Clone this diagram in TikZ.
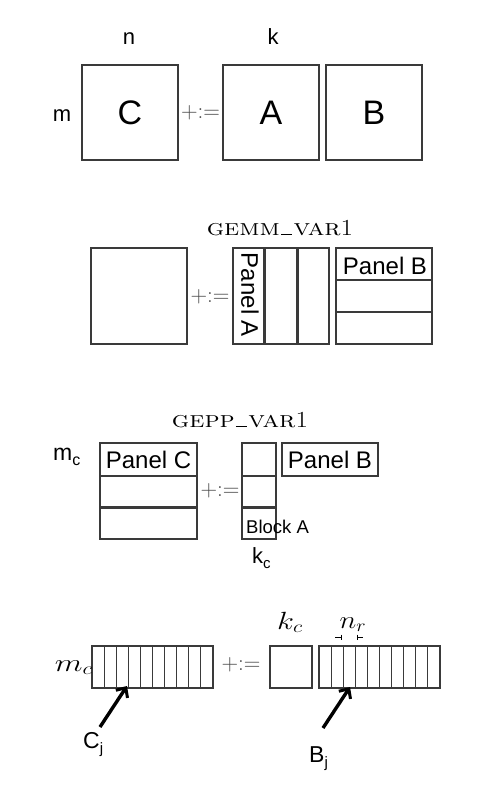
\documentclass[tikz,border=0pt]{standalone}
\usepackage{fontspec}
\usepackage{graphicx}
\usetikzlibrary{arrows.meta}
\newfontfamily\arial{Liberation Sans}
\definecolor{boxc}{HTML}{3A3A3A}
\definecolor{opc}{HTML}{484848}
\newcommand{\myus}{\kern0.04em\rule[-0.01em]{0.42em}{0.05em}\kern0.04em}
\begin{document}
\begin{tikzpicture}[x=1pt,y=-1pt,
  box/.style={draw=boxc,line width=1.3pt,inner sep=0pt,minimum width=96pt,minimum height=96pt},
  div/.style={draw=boxc,line width=2.2pt},
  thinln/.style={draw=boxc,line width=1.1pt},
  lbl/.style={font=\arial\fontsize{22}{24}\selectfont,inner sep=0pt,anchor=base},
  big/.style={font=\arial\fontsize{34}{36}\selectfont},
  paneltxt/.style={font=\arial\fontsize{24}{26}\selectfont,inner sep=0pt},
  op/.style={font=\fontsize{23}{24}\selectfont,text=opc,inner sep=0pt},
  ttl/.style={font=\fontsize{23}{26}\selectfont,inner sep=0pt,anchor=base},
  mlbl/.style={inner sep=0pt,anchor=base},
  ptr/.style={line width=3.4pt,-{Straight Barb[length=7.5pt,width=14pt,line width=3pt]}}]
\useasboundingbox (0,0) rectangle (483,795);

% ---------- Section 1 ----------
\node[box,big,minimum height=95pt] (C1) at (130,112.5) {C};
\node[box,big,minimum height=95pt] (A1) at (271,112.5) {A};
\node[box,big,minimum height=95pt] (B1) at (374,112.5) {B};
\node[op] (op1) at (200.5,112.5) {+:=};
\node[lbl] (n1) at (129,44) {n};
\node[lbl] (k1) at (273,44) {k};
\node[lbl] (m1) at (62,121) {m};

% ---------- Section 2 ----------
\node[ttl] (t2) at (280,235) {\scalebox{1.18}[1]{\textsc{gemm}\myus\textsc{var}1}};
\node[box] (C2) at (139,296) {};
\node[op] (op2) at (210,297) {+:=};
\node[box] (A2) at (281,296) {};
\draw[div] (264.5,248) -- (264.5,344);
\draw[div] (297.5,248) -- (297.5,344);
\node[paneltxt,rotate=-90] (pa) at (250,295) {Panel A};
\node[box] (B2) at (384,296) {};
\draw[div] (336,280) -- (432,280);
\draw[div] (336,312) -- (432,312);
\node[paneltxt,anchor=base] (pb2) at (385,274) {Panel B};

% ---------- Section 3 ----------
\node[ttl] (t3) at (240,427) {\scalebox{1.18}[1]{\textsc{gepp}\myus\textsc{var}1}};
\node[font=\arial,inner sep=0pt,anchor=base west] (mc3) at (53,460)
  {\fontsize{23}{24}\selectfont m\fontsize{16}{16}\selectfont\raisebox{-5pt}{c}};
\node[box,minimum width=97pt] (C3) at (148.5,491) {};
\draw[div] (100,476) -- (197,476);
\draw[div] (100,507.5) -- (197,507.5);
\node[paneltxt,anchor=base] (pc3) at (148.5,468) {Panel C};
\node[op] (op3) at (220,491) {+:=};
\node[box,minimum width=34pt] (A3) at (259,491) {};
\draw[div] (242,476) -- (276,476);
\draw[div] (242,507.5) -- (276,507.5);
\node[font=\arial\fontsize{18.5}{20}\selectfont,inner sep=0pt,anchor=base west] (ba3) at (246,533) {Block A};
\node[box,minimum height=33pt] (B3) at (330,459.5) {};
\node[paneltxt,anchor=base] (pb3) at (330,468) {Panel B};
\node[font=\arial,inner sep=0pt,anchor=base west] (kc3) at (252,563)
  {\fontsize{22}{24}\selectfont k\fontsize{15}{16}\selectfont\raisebox{-5pt}{c}};

% ---------- Section 4 ----------
\node[draw=boxc,line width=1.1pt,inner sep=0pt,minimum width=121pt,minimum height=42pt] (C4) at (152.5,667) {};
\foreach \i in {1,...,9} {\draw[thinln] (92+12.1*\i,646) -- (92+12.1*\i,688);}
\node[mlbl,anchor=base east,font=\fontsize{25}{26}\selectfont] (mc4) at (93,671) {\scalebox{1.3}[1]{$m_c$}};
\node[op] (op4) at (241,665) {+:=};
\node[draw=boxc,line width=1.1pt,inner sep=0pt,minimum width=42pt,minimum height=42pt] (K4) at (291,667) {};
\node[mlbl,font=\fontsize{24}{26}\selectfont] (kc4) at (290,629) {\scalebox{1.25}[1]{$k_c$}};
\node[draw=boxc,line width=1.1pt,inner sep=0pt,minimum width=121pt,minimum height=42pt] (B4) at (379.5,667) {};
\foreach \i in {1,...,9} {\draw[thinln] (319+12.1*\i,646) -- (319+12.1*\i,688);}
\node[mlbl,font=\fontsize{25}{26}\selectfont] (nr4) at (353,628) {\scalebox{1.15}[1]{$n_r$}};
\draw[line width=0.9pt] (335,637) -- (341,637) (341,634.5) -- (341,639.5);
\draw[line width=0.9pt] (357,637) -- (363,637) (357,634.5) -- (357,639.5);
\coordinate (cjtip) at (127,686);
\coordinate (bjtip) at (350,687);
\node[font=\arial,inner sep=0pt,anchor=base west] (cj) at (83,748)
  {\fontsize{23}{24}\selectfont C\fontsize{15}{16}\selectfont\raisebox{-5pt}{j}};
\node[font=\arial,inner sep=0pt,anchor=base west] (bj) at (309,762)
  {\fontsize{23}{24}\selectfont B\fontsize{15}{16}\selectfont\raisebox{-5pt}{j}};
\coordinate (cjtail) at (100,727);
\coordinate (bjtail) at (323,728);
\draw[ptr] (cjtail) -- (cjtip);
\draw[ptr] (bjtail) -- (bjtip);
\end{tikzpicture}
\end{document}
